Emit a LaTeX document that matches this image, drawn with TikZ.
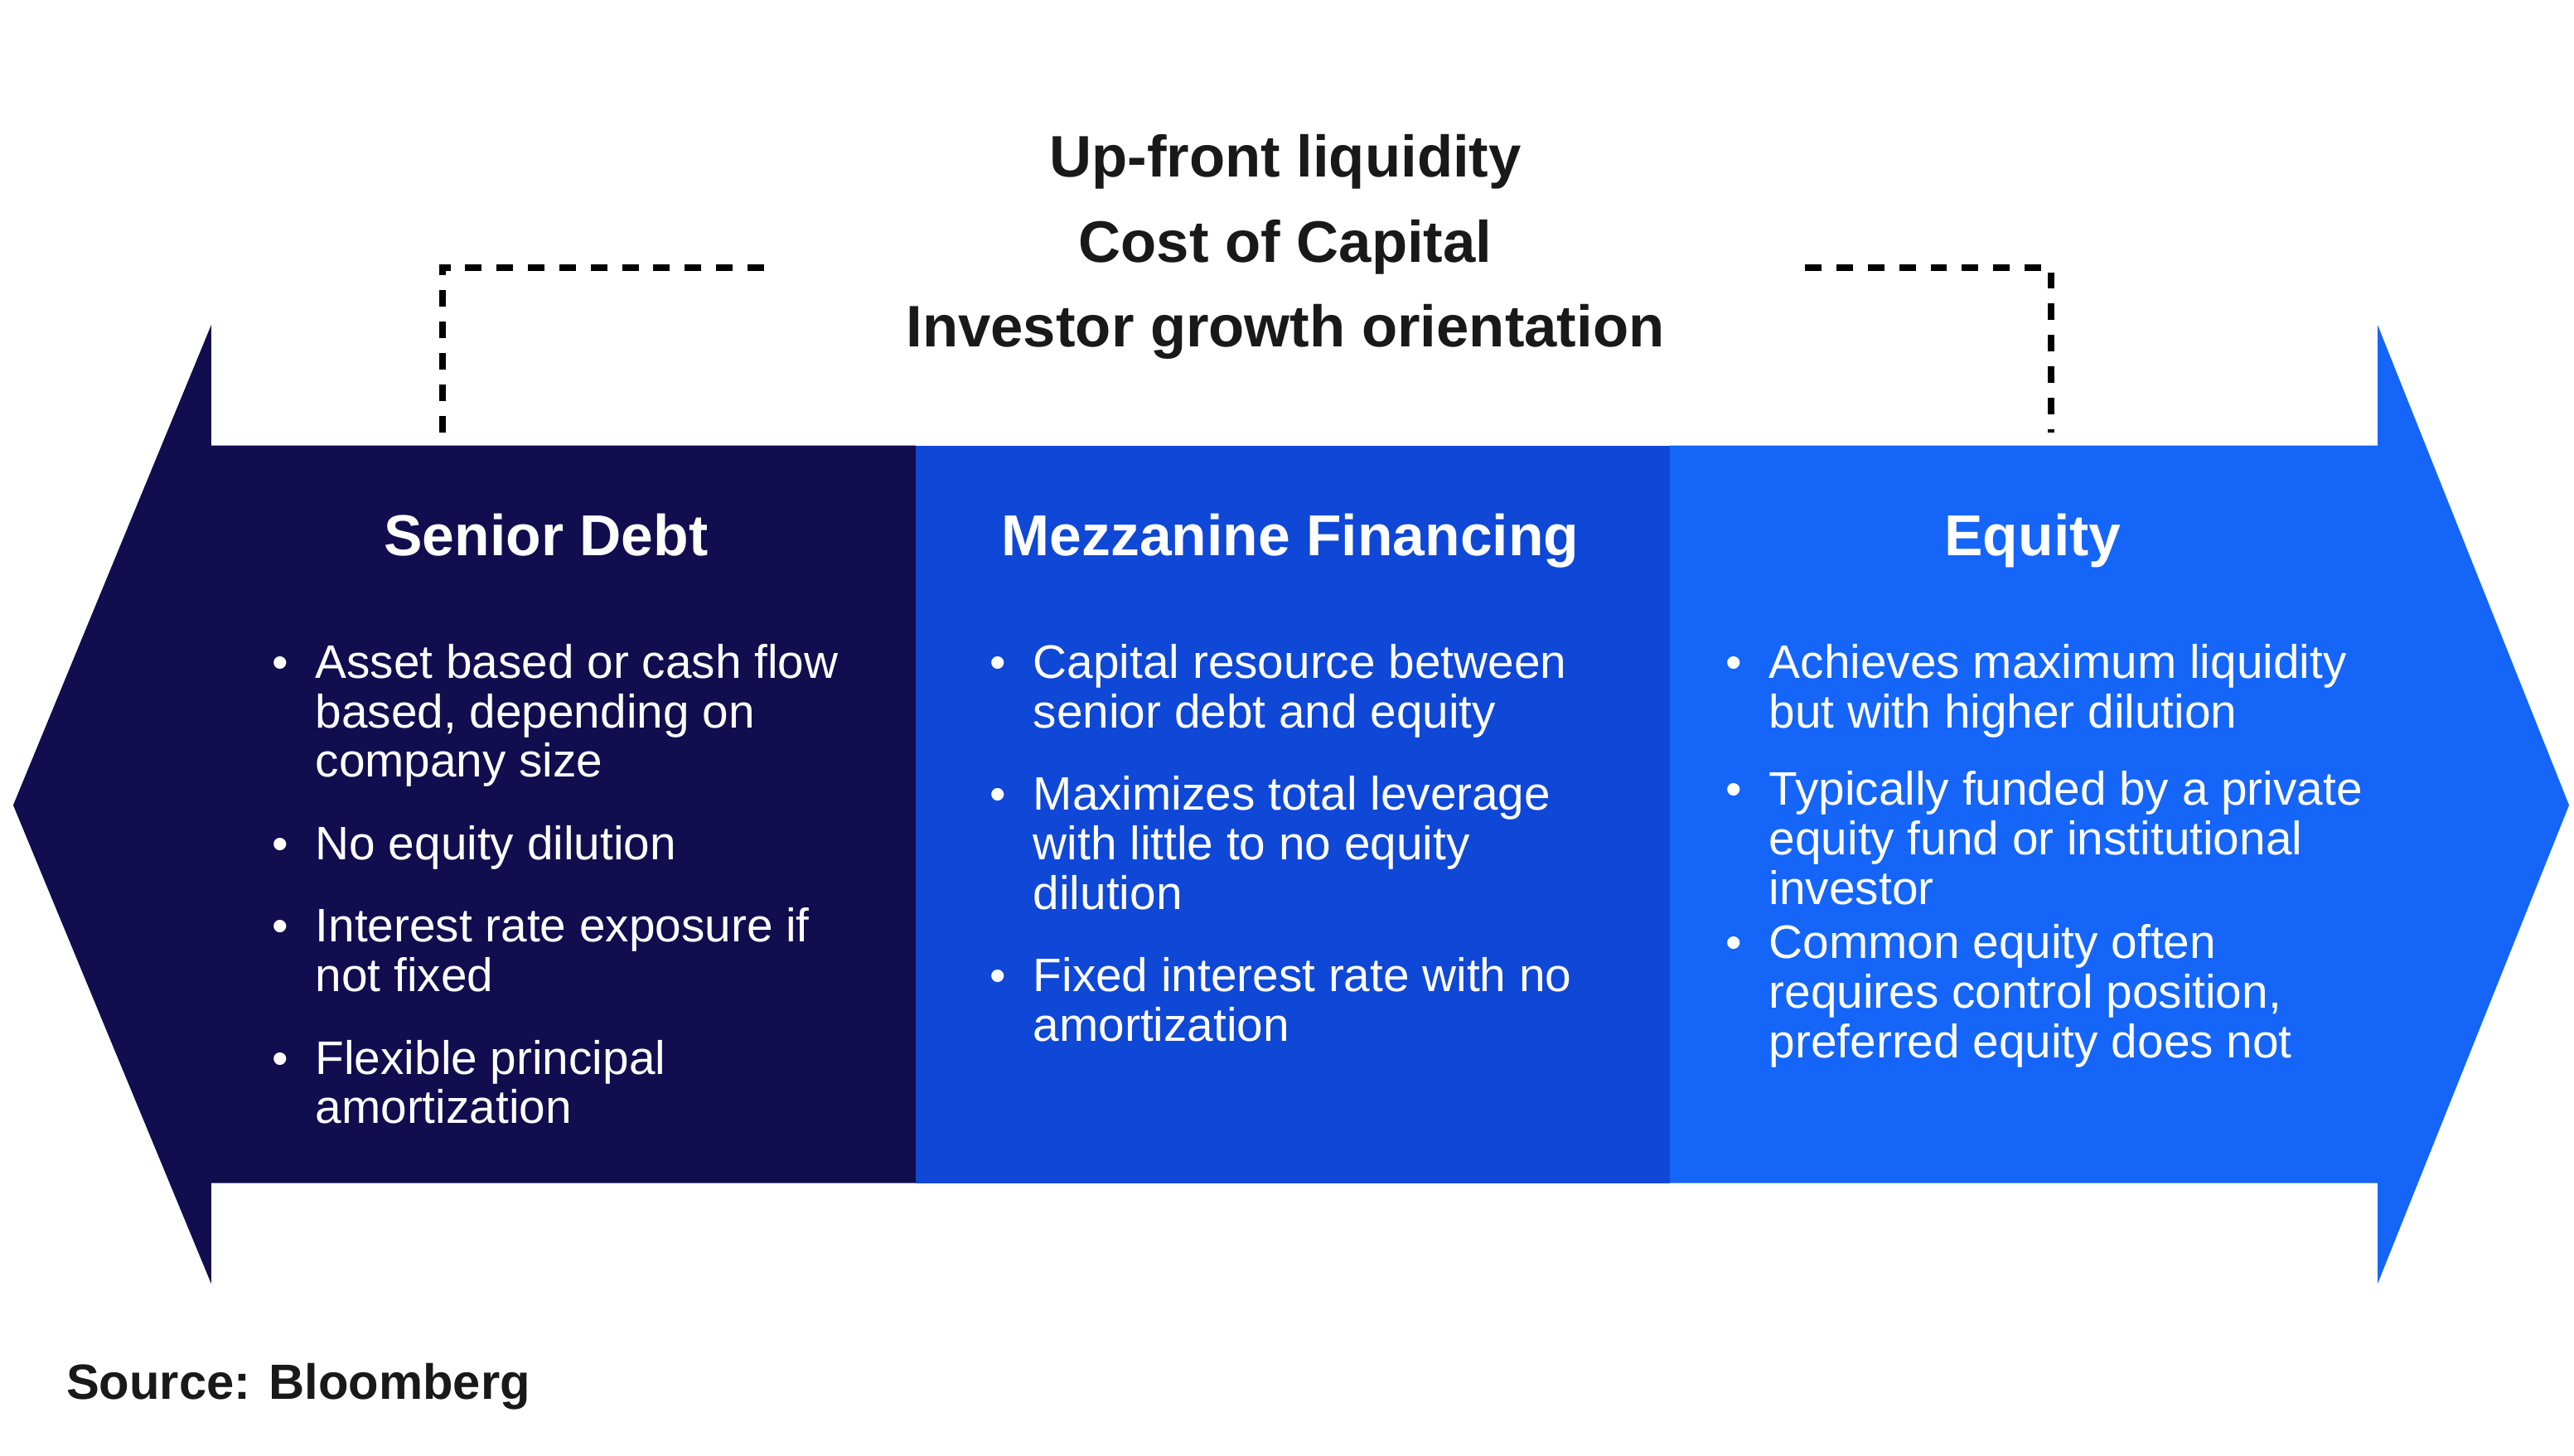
\documentclass[tikz,border=0pt]{standalone}
\usepackage{fontspec}
\setmainfont{Liberation Sans}
\definecolor{navy}{HTML}{110D4F}
\definecolor{midb}{HTML}{0F47D6}
\definecolor{brb}{HTML}{1565F9}
\newcommand{\ml}[1]{\begin{tabular}[t]{@{}l@{}}#1\end{tabular}}
\begin{document}
\begin{tikzpicture}[x=1pt,y=-1pt,
  body/.style={anchor=base west,font=\fontsize{28.5}{30}\selectfont,text=white,inner sep=0},
  bul/.style={anchor=base,font=\fontsize{28}{30}\selectfont,text=white,inner sep=0},
  head/.style={anchor=base,font=\fontsize{35}{40}\selectfont\bfseries,text=white,inner sep=0},
  ttl/.style={anchor=base,font=\fontsize{35.5}{40}\selectfont\bfseries,text=black!90,inner sep=0},
  dl/.style={line width=4pt,dash pattern=on 10pt off 9pt}]
\useasboundingbox[fill=white] (0,0) rectangle (1560,882);
\fill[navy] (8,488) -- (128,197) -- (128,270) -- (555,270) -- (555,717) -- (128,717) -- (128,778) -- cycle;
\fill[midb] (555,270) rectangle (1012,717);
\fill[brb] (1012,270) -- (1441,270) -- (1441,197) -- (1557,488) -- (1441,778) -- (1441,717) -- (1012,717) -- cycle;
\draw[dl] (268,262) -- (268,162) -- (467,162);
\draw[dl] (1094,162) -- (1243,162) -- (1243,262);
\node[ttl] (t1) at (779,107) {Up-front liquidity};
\node[ttl] (t2) at (779,159) {Cost of Capital};
\node[ttl] (t3) at (779,210) {Investor growth orientation};
\node[head] (h1) at (331,337) {Senior Debt};
\node[head] (h2) at (782,337) {Mezzanine Financing};
\node[head] (h3) at (1232,337) {Equity};
\foreach \y/\t [count=\i] in {411/{Asset based or cash flow\\based, depending on\\company size},521/{No equity dilution},571/{Interest rate exposure if\\not fixed},651/{Flexible principal\\amortization}}{
  \node[bul] (lb\i) at (170,\y) {•};
  \node[body] (lt\i) at (191,\y) {\ml{\t}};}
\foreach \y/\t [count=\i] in {411/{Capital resource between\\senior debt and equity},491/{Maximizes total leverage\\with little to no equity\\dilution},601/{Fixed interest rate with no\\amortization}}{
  \node[bul] (mb\i) at (605,\y) {•};
  \node[body] (mt\i) at (626,\y) {\ml{\t}};}
\foreach \y/\t [count=\i] in {411/{Achieves maximum liquidity\\but with higher dilution},488/{Typically funded by a private\\equity fund or institutional\\investor},581/{Common equity often\\requires control position,\\preferred equity does not}}{
  \node[bul] (rb\i) at (1051,\y) {•};
  \node[body] (rt\i) at (1072,\y) {\ml{\t}};}
\node[anchor=base west,font=\fontsize{30}{32}\selectfont\bfseries,text=black!90,inner sep=0] (src) at (40,848) {Source: Bloomberg};
\end{tikzpicture}
\end{document}
